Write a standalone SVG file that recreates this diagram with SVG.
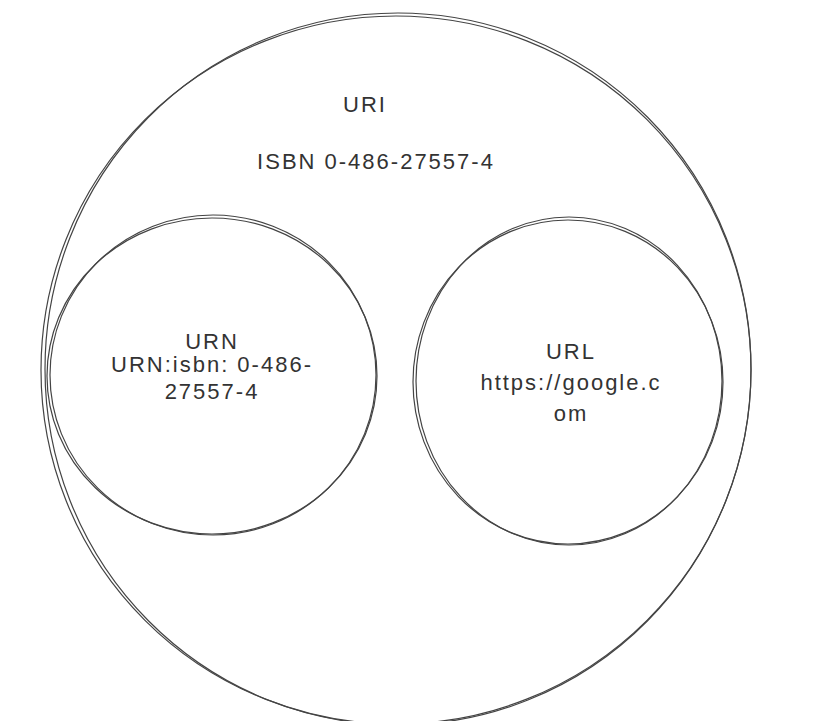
<svg xmlns="http://www.w3.org/2000/svg" width="817" height="721" viewBox="0 0 817 721">
<style>
.c{fill:none;stroke:#444;stroke-width:1.2}
.t{font-family:"Liberation Sans",sans-serif;font-size:22px;letter-spacing:2px;fill:#333;text-anchor:middle}
</style>
<rect width="817" height="721" fill="#fff"/>
<g id="uri">
<ellipse class="c" cx="396" cy="370" rx="355" ry="354"/>
<ellipse class="c" cx="398" cy="369" rx="353" ry="356"/>
<text class="t" x="365" y="112">URI</text>
<text class="t" x="376" y="169">ISBN 0-486-27557-4</text>
</g>
<g id="urn">
<ellipse class="c" cx="212" cy="376" rx="165" ry="158"/>
<ellipse class="c" cx="213" cy="375" rx="163" ry="160"/>
<text class="t" x="212" y="349">URN</text>
<text class="t" x="212" y="372">URN:isbn: 0-486-</text>
<text class="t" x="212" y="399">27557-4</text>
</g>
<g id="url">
<ellipse class="c" cx="568" cy="382" rx="155" ry="162"/>
<ellipse class="c" cx="569" cy="381" rx="153" ry="164"/>
<text class="t" x="571" y="359">URL</text>
<text class="t" x="571" y="390">https://google.c</text>
<text class="t" x="571" y="421">om</text>
</g>
<g id="connectors"/>
</svg>
